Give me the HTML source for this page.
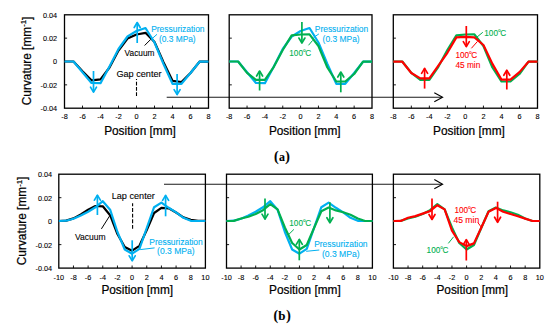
<!DOCTYPE html>
<html><head><meta charset="utf-8"><style>
html,body{margin:0;padding:0;background:#fff;}
svg{display:block;}
text{font-family:"Liberation Sans", sans-serif;}
text{stroke:currentColor;stroke-width:0.1px;}
text.t{stroke-width:0.22px;}
</style></head><body>
<svg width="550" height="327" viewBox="0 0 550 327" font-family='"Liberation Sans", sans-serif'>
<rect width="550" height="327" fill="#fff"/>
<line x1="166.7" y1="97.2" x2="442.0" y2="97.2" stroke="#1a1a1a" stroke-width="1.05" />
<polyline points="434.3,92.7 442.6,97.2 434.3,101.8" fill="none" stroke="#000" stroke-width="1.1"/>
<rect x="64.5" y="14.8" width="144.00" height="93.40" fill="none" stroke="#000" stroke-width="1.3"/>
<text x="64.50" y="119.4" font-size="7.3" fill="#000" color="#000" text-anchor="middle" >-8</text>
<line x1="82.50" y1="108.2" x2="82.50" y2="105.60000000000001" stroke="#000" stroke-width="0.9" />
<text x="82.50" y="119.4" font-size="7.3" fill="#000" color="#000" text-anchor="middle" >-6</text>
<line x1="100.50" y1="108.2" x2="100.50" y2="105.60000000000001" stroke="#000" stroke-width="0.9" />
<text x="100.50" y="119.4" font-size="7.3" fill="#000" color="#000" text-anchor="middle" >-4</text>
<line x1="118.50" y1="108.2" x2="118.50" y2="105.60000000000001" stroke="#000" stroke-width="0.9" />
<text x="118.50" y="119.4" font-size="7.3" fill="#000" color="#000" text-anchor="middle" >-2</text>
<line x1="136.50" y1="108.2" x2="136.50" y2="105.60000000000001" stroke="#000" stroke-width="0.9" />
<text x="136.50" y="119.4" font-size="7.3" fill="#000" color="#000" text-anchor="middle" >0</text>
<line x1="154.50" y1="108.2" x2="154.50" y2="105.60000000000001" stroke="#000" stroke-width="0.9" />
<text x="154.50" y="119.4" font-size="7.3" fill="#000" color="#000" text-anchor="middle" >2</text>
<line x1="172.50" y1="108.2" x2="172.50" y2="105.60000000000001" stroke="#000" stroke-width="0.9" />
<text x="172.50" y="119.4" font-size="7.3" fill="#000" color="#000" text-anchor="middle" >4</text>
<line x1="190.50" y1="108.2" x2="190.50" y2="105.60000000000001" stroke="#000" stroke-width="0.9" />
<text x="190.50" y="119.4" font-size="7.3" fill="#000" color="#000" text-anchor="middle" >6</text>
<text x="208.50" y="119.4" font-size="7.3" fill="#000" color="#000" text-anchor="middle" >8</text>
<text x="57.1" y="17.70" font-size="7.3" fill="#000" color="#000" text-anchor="end" >0.04</text>
<line x1="64.5" y1="38.15" x2="67.1" y2="38.15" stroke="#000" stroke-width="0.9" />
<text x="57.1" y="41.05" font-size="7.3" fill="#000" color="#000" text-anchor="end" >0.02</text>
<line x1="64.5" y1="61.50" x2="67.1" y2="61.50" stroke="#000" stroke-width="0.9" />
<text x="57.1" y="64.40" font-size="7.3" fill="#000" color="#000" text-anchor="end" >0</text>
<line x1="64.5" y1="84.85" x2="67.1" y2="84.85" stroke="#000" stroke-width="0.9" />
<text x="57.1" y="87.75" font-size="7.3" fill="#000" color="#000" text-anchor="end" >-0.02</text>
<text x="57.1" y="111.10" font-size="7.3" fill="#000" color="#000" text-anchor="end" >-0.04</text>
<text x="140.0" y="134.8" font-size="11.85" fill="#000" color="#000" text-anchor="middle" class="t">Position [mm]</text>
<text class="t" color="#000" transform="translate(30.8,60.9) rotate(-90)" font-size="11.85" text-anchor="middle">Curvature [mm<tspan font-size="7.8" dy="-4.6">-1</tspan><tspan dy="4.6">]</tspan></text>
<rect x="229.2" y="14.8" width="142.80" height="93.40" fill="none" stroke="#000" stroke-width="1.3"/>
<text x="229.20" y="119.4" font-size="7.3" fill="#000" color="#000" text-anchor="middle" >-8</text>
<line x1="247.05" y1="108.2" x2="247.05" y2="105.60000000000001" stroke="#000" stroke-width="0.9" />
<text x="247.05" y="119.4" font-size="7.3" fill="#000" color="#000" text-anchor="middle" >-6</text>
<line x1="264.90" y1="108.2" x2="264.90" y2="105.60000000000001" stroke="#000" stroke-width="0.9" />
<text x="264.90" y="119.4" font-size="7.3" fill="#000" color="#000" text-anchor="middle" >-4</text>
<line x1="282.75" y1="108.2" x2="282.75" y2="105.60000000000001" stroke="#000" stroke-width="0.9" />
<text x="282.75" y="119.4" font-size="7.3" fill="#000" color="#000" text-anchor="middle" >-2</text>
<line x1="300.60" y1="108.2" x2="300.60" y2="105.60000000000001" stroke="#000" stroke-width="0.9" />
<text x="300.60" y="119.4" font-size="7.3" fill="#000" color="#000" text-anchor="middle" >0</text>
<line x1="318.45" y1="108.2" x2="318.45" y2="105.60000000000001" stroke="#000" stroke-width="0.9" />
<text x="318.45" y="119.4" font-size="7.3" fill="#000" color="#000" text-anchor="middle" >2</text>
<line x1="336.30" y1="108.2" x2="336.30" y2="105.60000000000001" stroke="#000" stroke-width="0.9" />
<text x="336.30" y="119.4" font-size="7.3" fill="#000" color="#000" text-anchor="middle" >4</text>
<line x1="354.15" y1="108.2" x2="354.15" y2="105.60000000000001" stroke="#000" stroke-width="0.9" />
<text x="354.15" y="119.4" font-size="7.3" fill="#000" color="#000" text-anchor="middle" >6</text>
<text x="372.00" y="119.4" font-size="7.3" fill="#000" color="#000" text-anchor="middle" >8</text>
<line x1="229.2" y1="38.15" x2="231.79999999999998" y2="38.15" stroke="#000" stroke-width="0.9" />
<line x1="229.2" y1="61.50" x2="231.79999999999998" y2="61.50" stroke="#000" stroke-width="0.9" />
<line x1="229.2" y1="84.85" x2="231.79999999999998" y2="84.85" stroke="#000" stroke-width="0.9" />
<text x="304.75" y="134.8" font-size="11.85" fill="#000" color="#000" text-anchor="middle" class="t">Position [mm]</text>
<rect x="393.3" y="14.8" width="144.20" height="93.40" fill="none" stroke="#000" stroke-width="1.3"/>
<text x="393.30" y="119.4" font-size="7.3" fill="#000" color="#000" text-anchor="middle" >-8</text>
<line x1="411.32" y1="108.2" x2="411.32" y2="105.60000000000001" stroke="#000" stroke-width="0.9" />
<text x="411.32" y="119.4" font-size="7.3" fill="#000" color="#000" text-anchor="middle" >-6</text>
<line x1="429.35" y1="108.2" x2="429.35" y2="105.60000000000001" stroke="#000" stroke-width="0.9" />
<text x="429.35" y="119.4" font-size="7.3" fill="#000" color="#000" text-anchor="middle" >-4</text>
<line x1="447.38" y1="108.2" x2="447.38" y2="105.60000000000001" stroke="#000" stroke-width="0.9" />
<text x="447.38" y="119.4" font-size="7.3" fill="#000" color="#000" text-anchor="middle" >-2</text>
<line x1="465.40" y1="108.2" x2="465.40" y2="105.60000000000001" stroke="#000" stroke-width="0.9" />
<text x="465.40" y="119.4" font-size="7.3" fill="#000" color="#000" text-anchor="middle" >0</text>
<line x1="483.43" y1="108.2" x2="483.43" y2="105.60000000000001" stroke="#000" stroke-width="0.9" />
<text x="483.43" y="119.4" font-size="7.3" fill="#000" color="#000" text-anchor="middle" >2</text>
<line x1="501.45" y1="108.2" x2="501.45" y2="105.60000000000001" stroke="#000" stroke-width="0.9" />
<text x="501.45" y="119.4" font-size="7.3" fill="#000" color="#000" text-anchor="middle" >4</text>
<line x1="519.48" y1="108.2" x2="519.48" y2="105.60000000000001" stroke="#000" stroke-width="0.9" />
<text x="519.48" y="119.4" font-size="7.3" fill="#000" color="#000" text-anchor="middle" >6</text>
<text x="537.50" y="119.4" font-size="7.3" fill="#000" color="#000" text-anchor="middle" >8</text>
<line x1="393.3" y1="38.15" x2="395.90000000000003" y2="38.15" stroke="#000" stroke-width="0.9" />
<line x1="393.3" y1="61.50" x2="395.90000000000003" y2="61.50" stroke="#000" stroke-width="0.9" />
<line x1="393.3" y1="84.85" x2="395.90000000000003" y2="84.85" stroke="#000" stroke-width="0.9" />
<text x="468.95" y="134.6" font-size="11.85" fill="#000" color="#000" text-anchor="middle" class="t">Position [mm]</text>
<polyline points="64.50,61.50 73.50,61.50 82.50,71.30 91.50,80.30 100.50,79.30 109.50,67.50 118.50,50.50 127.50,38.50 136.50,34.50 145.50,32.80 154.50,42.00 163.50,62.30 172.50,80.80 181.50,82.00 190.50,73.00 199.50,61.70 208.50,61.70" fill="none" stroke="#000000" stroke-width="2.2" stroke-linejoin="round"/>
<polyline points="64.50,61.50 73.50,61.50 82.50,72.30 91.50,83.00 100.50,83.20 109.50,66.50 118.50,49.00 127.50,36.50 136.50,31.00 145.50,28.00 154.50,42.50 163.50,64.00 172.50,83.80 181.50,83.80 190.50,73.00 199.50,61.70 208.50,61.70" fill="none" stroke="#00b0f0" stroke-width="2.2" stroke-linejoin="round"/>
<line x1="137.2" y1="43" x2="137.2" y2="22.55" stroke="#00b0f0" stroke-width="1.7"/>
<polyline points="134.20,27.55 137.2,22.55 140.20,27.55" fill="none" stroke="#00b0f0" stroke-width="1.7" stroke-linejoin="round" stroke-linecap="round"/>
<line x1="93.5" y1="71" x2="93.5" y2="92.15" stroke="#00b0f0" stroke-width="1.7"/>
<polyline points="90.50,87.15 93.5,92.15 96.50,87.15" fill="none" stroke="#00b0f0" stroke-width="1.7" stroke-linejoin="round" stroke-linecap="round"/>
<line x1="177.1" y1="74.1" x2="177.1" y2="94.65" stroke="#00b0f0" stroke-width="1.7"/>
<polyline points="174.10,89.65 177.1,94.65 180.10,89.65" fill="none" stroke="#00b0f0" stroke-width="1.7" stroke-linejoin="round" stroke-linecap="round"/>
<text x="151.2" y="32.1" font-size="8.43" fill="#00b0f0" color="#00b0f0" text-anchor="start" >Pressurization</text>
<text x="158.9" y="42.0" font-size="8.4" fill="#00b0f0" color="#00b0f0" text-anchor="start" >(0.3 MPa)</text>
<line x1="150.8" y1="39.8" x2="157.0" y2="34.3" stroke="#00b0f0" stroke-width="1.0" />
<text x="124.6" y="55.5" font-size="8.3" fill="#000" color="#000" text-anchor="start" >Vacuum</text>
<line x1="144.6" y1="45.5" x2="150.7" y2="39.4" stroke="#000000" stroke-width="1.0" />
<text x="116.4" y="76.6" font-size="9.15" fill="#000" color="#000" text-anchor="start" >Gap center</text>
<line x1="136.5" y1="78.9" x2="136.5" y2="96.2" stroke="#000000" stroke-width="1.1" stroke-dasharray="3.7,1.6" stroke-dashoffset="2.5"/>
<polyline points="229.20,61.50 238.12,61.50 247.05,72.30 255.97,83.00 264.90,83.20 273.82,66.50 282.75,49.00 291.68,36.50 300.60,31.00 309.52,28.00 318.45,42.50 327.38,64.00 336.30,83.80 345.23,83.80 354.15,73.00 363.07,61.70 372.00,61.70" fill="none" stroke="#00b0f0" stroke-width="2.2" stroke-linejoin="round"/>
<polyline points="229.20,61.50 238.12,61.50 247.05,72.90 255.97,79.80 264.90,79.80 273.82,66.80 282.75,50.00 291.68,35.40 300.60,34.50 309.52,34.30 318.45,46.00 327.38,67.50 336.30,81.50 345.23,81.50 354.15,74.00 363.07,61.70 372.00,61.70" fill="none" stroke="#00b050" stroke-width="2.2" stroke-linejoin="round"/>
<line x1="301.9" y1="21.9" x2="301.9" y2="43.05" stroke="#00b050" stroke-width="1.7"/>
<polyline points="298.90,38.05 301.9,43.05 304.90,38.05" fill="none" stroke="#00b050" stroke-width="1.7" stroke-linejoin="round" stroke-linecap="round"/>
<line x1="259.6" y1="90.5" x2="259.6" y2="71.05" stroke="#00b050" stroke-width="1.7"/>
<polyline points="256.60,76.05 259.6,71.05 262.60,76.05" fill="none" stroke="#00b050" stroke-width="1.7" stroke-linejoin="round" stroke-linecap="round"/>
<line x1="340.8" y1="92.3" x2="340.8" y2="72.05" stroke="#00b050" stroke-width="1.7"/>
<polyline points="337.80,77.05 340.8,72.05 343.80,77.05" fill="none" stroke="#00b050" stroke-width="1.7" stroke-linejoin="round" stroke-linecap="round"/>
<text x="314.8" y="31.9" font-size="8.43" fill="#00b0f0" color="#00b0f0" text-anchor="start" >Pressurization</text>
<text x="322.6" y="41.8" font-size="8.45" fill="#00b0f0" color="#00b0f0" text-anchor="start" >(0.3 MPa)</text>
<line x1="313.5" y1="37.5" x2="318.9" y2="33.9" stroke="#00b0f0" stroke-width="1.0" />
<text x="289.3" y="56.0" font-size="8.2" fill="#00b050" color="#00b050" text-anchor="start" >100<tspan dx="-0.25">°</tspan><tspan dx="-0.75">C</tspan></text>
<line x1="308.5" y1="45.3" x2="312.6" y2="40.4" stroke="#00b050" stroke-width="1.0" />
<polyline points="393.30,61.50 402.31,61.50 411.32,72.90 420.34,79.80 429.35,79.80 438.36,66.80 447.38,50.00 456.39,35.40 465.40,34.50 474.41,34.30 483.43,46.00 492.44,67.50 501.45,81.50 510.46,81.50 519.48,74.00 528.49,61.70 537.50,61.70" fill="none" stroke="#00b050" stroke-width="2.2" stroke-linejoin="round"/>
<polyline points="393.30,61.70 402.31,61.70 411.32,73.00 420.34,78.40 429.35,78.40 438.36,65.70 447.38,52.80 456.39,37.40 465.40,36.80 474.41,37.40 483.43,45.00 492.44,63.90 501.45,79.60 510.46,79.60 519.48,72.10 528.49,61.70 537.50,61.70" fill="none" stroke="#ff0000" stroke-width="2.2" stroke-linejoin="round"/>
<line x1="466.3" y1="26" x2="466.3" y2="46.65" stroke="#ff0000" stroke-width="1.7"/>
<polyline points="463.30,41.65 466.3,46.65 469.30,41.65" fill="none" stroke="#ff0000" stroke-width="1.7" stroke-linejoin="round" stroke-linecap="round"/>
<line x1="424.6" y1="88.6" x2="424.6" y2="68.35" stroke="#ff0000" stroke-width="1.7"/>
<polyline points="421.60,73.35 424.6,68.35 427.60,73.35" fill="none" stroke="#ff0000" stroke-width="1.7" stroke-linejoin="round" stroke-linecap="round"/>
<line x1="506.8" y1="89.5" x2="506.8" y2="70.25" stroke="#ff0000" stroke-width="1.7"/>
<polyline points="503.80,75.25 506.8,70.25 509.80,75.25" fill="none" stroke="#ff0000" stroke-width="1.7" stroke-linejoin="round" stroke-linecap="round"/>
<text x="484.3" y="36.1" font-size="8.2" fill="#00b050" color="#00b050" text-anchor="start" >100<tspan dx="-0.25">°</tspan><tspan dx="-0.75">C</tspan></text>
<line x1="475.6" y1="38.2" x2="482.8" y2="32.3" stroke="#00b050" stroke-width="1.0" />
<text x="455.4" y="57.9" font-size="8.2" fill="#ff0000" color="#ff0000" text-anchor="start" >100<tspan dx="-0.25">°</tspan><tspan dx="-0.75">C</tspan></text>
<text x="455.4" y="67.8" font-size="8.3" fill="#ff0000" color="#ff0000" text-anchor="start" >45 min</text>
<line x1="471.4" y1="48.3" x2="477.5" y2="41.4" stroke="#ff0000" stroke-width="1.0" />
<text x="273.9" y="160.9" font-size="13.8" style="font-family:&quot;Liberation Serif&quot;, serif" font-weight="bold" fill="#000">(<tspan dx="0.5" font-size="11.9" font-weight="bold">a</tspan><tspan dx="0.4">)</tspan></text>
<line x1="164" y1="184.2" x2="442.0" y2="184.2" stroke="#1a1a1a" stroke-width="1.05" />
<polyline points="434.3,179.4 442.6,184.2 434.3,188.8" fill="none" stroke="#000" stroke-width="1.1"/>
<rect x="58.8" y="174.2" width="146.60" height="93.90" fill="none" stroke="#000" stroke-width="1.3"/>
<text x="58.80" y="280.0" font-size="7.3" fill="#000" color="#000" text-anchor="middle" >-10</text>
<line x1="73.46" y1="268.1" x2="73.46" y2="265.5" stroke="#000" stroke-width="0.9" />
<text x="73.46" y="280.0" font-size="7.3" fill="#000" color="#000" text-anchor="middle" >-8</text>
<line x1="88.12" y1="268.1" x2="88.12" y2="265.5" stroke="#000" stroke-width="0.9" />
<text x="88.12" y="280.0" font-size="7.3" fill="#000" color="#000" text-anchor="middle" >-6</text>
<line x1="102.78" y1="268.1" x2="102.78" y2="265.5" stroke="#000" stroke-width="0.9" />
<text x="102.78" y="280.0" font-size="7.3" fill="#000" color="#000" text-anchor="middle" >-4</text>
<line x1="117.44" y1="268.1" x2="117.44" y2="265.5" stroke="#000" stroke-width="0.9" />
<text x="117.44" y="280.0" font-size="7.3" fill="#000" color="#000" text-anchor="middle" >-2</text>
<line x1="132.10" y1="268.1" x2="132.10" y2="265.5" stroke="#000" stroke-width="0.9" />
<text x="132.10" y="280.0" font-size="7.3" fill="#000" color="#000" text-anchor="middle" >0</text>
<line x1="146.76" y1="268.1" x2="146.76" y2="265.5" stroke="#000" stroke-width="0.9" />
<text x="146.76" y="280.0" font-size="7.3" fill="#000" color="#000" text-anchor="middle" >2</text>
<line x1="161.42" y1="268.1" x2="161.42" y2="265.5" stroke="#000" stroke-width="0.9" />
<text x="161.42" y="280.0" font-size="7.3" fill="#000" color="#000" text-anchor="middle" >4</text>
<line x1="176.08" y1="268.1" x2="176.08" y2="265.5" stroke="#000" stroke-width="0.9" />
<text x="176.08" y="280.0" font-size="7.3" fill="#000" color="#000" text-anchor="middle" >6</text>
<line x1="190.74" y1="268.1" x2="190.74" y2="265.5" stroke="#000" stroke-width="0.9" />
<text x="190.74" y="280.0" font-size="7.3" fill="#000" color="#000" text-anchor="middle" >8</text>
<text x="205.40" y="280.0" font-size="7.3" fill="#000" color="#000" text-anchor="middle" >10</text>
<text x="52.1" y="177.10" font-size="7.3" fill="#000" color="#000" text-anchor="end" >0.04</text>
<line x1="58.8" y1="197.68" x2="61.4" y2="197.68" stroke="#000" stroke-width="0.9" />
<text x="52.1" y="200.58" font-size="7.3" fill="#000" color="#000" text-anchor="end" >0.02</text>
<line x1="58.8" y1="221.15" x2="61.4" y2="221.15" stroke="#000" stroke-width="0.9" />
<text x="52.1" y="224.05" font-size="7.3" fill="#000" color="#000" text-anchor="end" >0</text>
<line x1="58.8" y1="244.62" x2="61.4" y2="244.62" stroke="#000" stroke-width="0.9" />
<text x="52.1" y="247.53" font-size="7.3" fill="#000" color="#000" text-anchor="end" >-0.02</text>
<text x="52.1" y="271.00" font-size="7.3" fill="#000" color="#000" text-anchor="end" >-0.04</text>
<text x="137.25" y="294.4" font-size="11.85" fill="#000" color="#000" text-anchor="middle" class="t">Position [mm]</text>
<text class="t" color="#000" transform="translate(26.4,220.9) rotate(-90)" font-size="11.85" text-anchor="middle">Curvature [mm<tspan font-size="7.8" dy="-4.6">-1</tspan><tspan dy="4.6">]</tspan></text>
<rect x="226.5" y="174.2" width="145.90" height="93.90" fill="none" stroke="#000" stroke-width="1.3"/>
<text x="226.50" y="280.0" font-size="7.3" fill="#000" color="#000" text-anchor="middle" >-10</text>
<line x1="241.09" y1="268.1" x2="241.09" y2="265.5" stroke="#000" stroke-width="0.9" />
<text x="241.09" y="280.0" font-size="7.3" fill="#000" color="#000" text-anchor="middle" >-8</text>
<line x1="255.68" y1="268.1" x2="255.68" y2="265.5" stroke="#000" stroke-width="0.9" />
<text x="255.68" y="280.0" font-size="7.3" fill="#000" color="#000" text-anchor="middle" >-6</text>
<line x1="270.27" y1="268.1" x2="270.27" y2="265.5" stroke="#000" stroke-width="0.9" />
<text x="270.27" y="280.0" font-size="7.3" fill="#000" color="#000" text-anchor="middle" >-4</text>
<line x1="284.86" y1="268.1" x2="284.86" y2="265.5" stroke="#000" stroke-width="0.9" />
<text x="284.86" y="280.0" font-size="7.3" fill="#000" color="#000" text-anchor="middle" >-2</text>
<line x1="299.45" y1="268.1" x2="299.45" y2="265.5" stroke="#000" stroke-width="0.9" />
<text x="299.45" y="280.0" font-size="7.3" fill="#000" color="#000" text-anchor="middle" >0</text>
<line x1="314.04" y1="268.1" x2="314.04" y2="265.5" stroke="#000" stroke-width="0.9" />
<text x="314.04" y="280.0" font-size="7.3" fill="#000" color="#000" text-anchor="middle" >2</text>
<line x1="328.63" y1="268.1" x2="328.63" y2="265.5" stroke="#000" stroke-width="0.9" />
<text x="328.63" y="280.0" font-size="7.3" fill="#000" color="#000" text-anchor="middle" >4</text>
<line x1="343.22" y1="268.1" x2="343.22" y2="265.5" stroke="#000" stroke-width="0.9" />
<text x="343.22" y="280.0" font-size="7.3" fill="#000" color="#000" text-anchor="middle" >6</text>
<line x1="357.81" y1="268.1" x2="357.81" y2="265.5" stroke="#000" stroke-width="0.9" />
<text x="357.81" y="280.0" font-size="7.3" fill="#000" color="#000" text-anchor="middle" >8</text>
<text x="372.40" y="280.0" font-size="7.3" fill="#000" color="#000" text-anchor="middle" >10</text>
<line x1="226.5" y1="197.68" x2="229.1" y2="197.68" stroke="#000" stroke-width="0.9" />
<line x1="226.5" y1="221.15" x2="229.1" y2="221.15" stroke="#000" stroke-width="0.9" />
<line x1="226.5" y1="244.62" x2="229.1" y2="244.62" stroke="#000" stroke-width="0.9" />
<text x="304.9" y="294.4" font-size="11.85" fill="#000" color="#000" text-anchor="middle" class="t">Position [mm]</text>
<rect x="393.4" y="174.2" width="146.40" height="93.90" fill="none" stroke="#000" stroke-width="1.3"/>
<text x="393.40" y="280.0" font-size="7.3" fill="#000" color="#000" text-anchor="middle" >-10</text>
<line x1="408.04" y1="268.1" x2="408.04" y2="265.5" stroke="#000" stroke-width="0.9" />
<text x="408.04" y="280.0" font-size="7.3" fill="#000" color="#000" text-anchor="middle" >-8</text>
<line x1="422.68" y1="268.1" x2="422.68" y2="265.5" stroke="#000" stroke-width="0.9" />
<text x="422.68" y="280.0" font-size="7.3" fill="#000" color="#000" text-anchor="middle" >-6</text>
<line x1="437.32" y1="268.1" x2="437.32" y2="265.5" stroke="#000" stroke-width="0.9" />
<text x="437.32" y="280.0" font-size="7.3" fill="#000" color="#000" text-anchor="middle" >-4</text>
<line x1="451.96" y1="268.1" x2="451.96" y2="265.5" stroke="#000" stroke-width="0.9" />
<text x="451.96" y="280.0" font-size="7.3" fill="#000" color="#000" text-anchor="middle" >-2</text>
<line x1="466.60" y1="268.1" x2="466.60" y2="265.5" stroke="#000" stroke-width="0.9" />
<text x="466.60" y="280.0" font-size="7.3" fill="#000" color="#000" text-anchor="middle" >0</text>
<line x1="481.24" y1="268.1" x2="481.24" y2="265.5" stroke="#000" stroke-width="0.9" />
<text x="481.24" y="280.0" font-size="7.3" fill="#000" color="#000" text-anchor="middle" >2</text>
<line x1="495.88" y1="268.1" x2="495.88" y2="265.5" stroke="#000" stroke-width="0.9" />
<text x="495.88" y="280.0" font-size="7.3" fill="#000" color="#000" text-anchor="middle" >4</text>
<line x1="510.52" y1="268.1" x2="510.52" y2="265.5" stroke="#000" stroke-width="0.9" />
<text x="510.52" y="280.0" font-size="7.3" fill="#000" color="#000" text-anchor="middle" >6</text>
<line x1="525.16" y1="268.1" x2="525.16" y2="265.5" stroke="#000" stroke-width="0.9" />
<text x="525.16" y="280.0" font-size="7.3" fill="#000" color="#000" text-anchor="middle" >8</text>
<text x="539.80" y="280.0" font-size="7.3" fill="#000" color="#000" text-anchor="middle" >10</text>
<line x1="393.4" y1="197.68" x2="396.0" y2="197.68" stroke="#000" stroke-width="0.9" />
<line x1="393.4" y1="221.15" x2="396.0" y2="221.15" stroke="#000" stroke-width="0.9" />
<line x1="393.4" y1="244.62" x2="396.0" y2="244.62" stroke="#000" stroke-width="0.9" />
<text x="472.3" y="294.2" font-size="11.85" fill="#000" color="#000" text-anchor="middle" class="t">Position [mm]</text>
<polyline points="58.80,221.00 66.13,220.60 73.46,218.40 80.79,214.50 88.12,209.80 95.45,206.00 102.78,206.30 110.11,215.20 117.44,234.00 124.77,247.00 132.10,250.70 139.43,245.80 146.76,230.00 154.09,213.00 161.42,207.80 168.75,208.30 176.08,212.50 183.41,217.40 190.74,219.90 198.07,220.80 205.40,220.80" fill="none" stroke="#000000" stroke-width="2.2" stroke-linejoin="round"/>
<polyline points="58.80,221.00 66.13,220.70 73.46,218.70 80.79,215.60 88.12,211.80 95.45,207.30 102.78,201.20 110.11,209.70 117.44,232.00 124.77,249.50 132.10,253.70 139.43,248.90 146.76,228.00 154.09,207.20 161.42,202.60 168.75,207.80 176.08,212.40 183.41,217.80 190.74,220.80 198.07,221.00 205.40,221.00" fill="none" stroke="#00b0f0" stroke-width="2.2" stroke-linejoin="round"/>
<line x1="97.4" y1="215" x2="97.4" y2="195.15" stroke="#00b0f0" stroke-width="1.7"/>
<polyline points="94.40,200.15 97.4,195.15 100.40,200.15" fill="none" stroke="#00b0f0" stroke-width="1.7" stroke-linejoin="round" stroke-linecap="round"/>
<line x1="165.6" y1="216.3" x2="165.6" y2="195.35" stroke="#00b0f0" stroke-width="1.7"/>
<polyline points="162.60,200.35 165.6,195.35 168.60,200.35" fill="none" stroke="#00b0f0" stroke-width="1.7" stroke-linejoin="round" stroke-linecap="round"/>
<line x1="132.2" y1="240.3" x2="132.2" y2="260.85" stroke="#00b0f0" stroke-width="1.7"/>
<polyline points="129.20,255.85 132.2,260.85 135.20,255.85" fill="none" stroke="#00b0f0" stroke-width="1.7" stroke-linejoin="round" stroke-linecap="round"/>
<text x="111.7" y="199.2" font-size="9.15" fill="#000" color="#000" text-anchor="start" >Lap center</text>
<line x1="132.6" y1="203.2" x2="132.6" y2="228.8" stroke="#000000" stroke-width="1.1" stroke-dasharray="3.9,1.75" stroke-dashoffset="0.8"/>
<text x="74.9" y="240.4" font-size="8.55" fill="#000" color="#000" text-anchor="start" >Vacuum</text>
<line x1="101.4" y1="228.9" x2="109.5" y2="216.1" stroke="#000000" stroke-width="1.0" />
<text x="149.3" y="244.5" font-size="8.45" fill="#00b0f0" color="#00b0f0" text-anchor="start" >Pressurization</text>
<text x="157.1" y="254.3" font-size="8.55" fill="#00b0f0" color="#00b0f0" text-anchor="start" >(0.3 MPa)</text>
<line x1="140.2" y1="249.6" x2="154.6" y2="247.9" stroke="#00b0f0" stroke-width="1.0" />
<polyline points="226.50,221.00 233.79,220.70 241.09,218.70 248.38,215.60 255.68,211.80 262.98,207.30 270.27,201.20 277.56,209.70 284.86,232.00 292.15,249.50 299.45,253.70 306.75,248.90 314.04,228.00 321.33,207.20 328.63,202.60 335.92,207.80 343.22,212.40 350.51,217.80 357.81,220.80 365.10,221.00 372.40,221.00" fill="none" stroke="#00b0f0" stroke-width="2.2" stroke-linejoin="round"/>
<polyline points="226.50,221.00 233.79,220.90 241.09,218.50 248.38,216.80 255.68,214.00 262.98,210.20 270.27,204.20 277.56,209.40 284.86,227.50 292.15,243.00 299.45,249.50 306.75,245.00 314.04,228.00 321.33,211.30 328.63,207.50 335.92,210.40 343.22,212.30 350.51,214.80 357.81,218.50 365.10,221.00 372.40,221.00" fill="none" stroke="#00b050" stroke-width="2.2" stroke-linejoin="round"/>
<line x1="265.0" y1="198.5" x2="265.0" y2="219.15" stroke="#00b050" stroke-width="1.7"/>
<polyline points="262.00,214.15 265.0,219.15 268.00,214.15" fill="none" stroke="#00b050" stroke-width="1.7" stroke-linejoin="round" stroke-linecap="round"/>
<line x1="329.9" y1="202.2" x2="329.9" y2="222.75" stroke="#00b050" stroke-width="1.7"/>
<polyline points="326.90,217.75 329.9,222.75 332.90,217.75" fill="none" stroke="#00b050" stroke-width="1.7" stroke-linejoin="round" stroke-linecap="round"/>
<line x1="299.3" y1="260.3" x2="299.3" y2="239.35" stroke="#00b050" stroke-width="1.7"/>
<polyline points="296.30,244.35 299.3,239.35 302.30,244.35" fill="none" stroke="#00b050" stroke-width="1.7" stroke-linejoin="round" stroke-linecap="round"/>
<text x="289.3" y="226.1" font-size="8.2" fill="#00b050" color="#00b050" text-anchor="start" >100<tspan dx="-0.25">°</tspan><tspan dx="-0.75">C</tspan></text>
<line x1="288.3" y1="234.9" x2="293.9" y2="229.4" stroke="#00b050" stroke-width="1.0" />
<text x="314.2" y="247.3" font-size="8.43" fill="#00b0f0" color="#00b0f0" text-anchor="start" >Pressurization</text>
<text x="321.9" y="256.6" font-size="8.6" fill="#00b0f0" color="#00b0f0" text-anchor="start" >(0.3 MPa)</text>
<line x1="306.2" y1="251.3" x2="319.3" y2="250.0" stroke="#00b0f0" stroke-width="1.0" />
<polyline points="393.40,221.00 400.72,220.90 408.04,218.50 415.36,216.80 422.68,214.00 430.00,210.20 437.32,204.20 444.64,209.40 451.96,227.50 459.28,243.00 466.60,249.50 473.92,245.00 481.24,228.00 488.56,211.30 495.88,207.50 503.20,210.40 510.52,212.30 517.84,214.80 525.16,218.50 532.48,221.00 539.80,221.00" fill="none" stroke="#00b050" stroke-width="2.2" stroke-linejoin="round"/>
<polyline points="393.40,221.00 400.72,220.90 408.04,217.80 415.36,216.10 422.68,213.60 430.00,211.10 437.32,205.20 444.64,209.40 451.96,230.60 459.28,242.10 466.60,246.10 473.92,243.40 481.24,227.80 488.56,211.70 495.88,207.90 503.20,211.80 510.52,214.00 517.84,216.20 525.16,218.60 532.48,221.00 539.80,221.00" fill="none" stroke="#ff0000" stroke-width="2.2" stroke-linejoin="round"/>
<line x1="432.0" y1="198.5" x2="432.0" y2="219.45" stroke="#ff0000" stroke-width="1.7"/>
<polyline points="429.00,214.45 432.0,219.45 435.00,214.45" fill="none" stroke="#ff0000" stroke-width="1.7" stroke-linejoin="round" stroke-linecap="round"/>
<line x1="497.6" y1="201.7" x2="497.6" y2="222.25" stroke="#ff0000" stroke-width="1.7"/>
<polyline points="494.60,217.25 497.6,222.25 500.60,217.25" fill="none" stroke="#ff0000" stroke-width="1.7" stroke-linejoin="round" stroke-linecap="round"/>
<line x1="466.3" y1="260.5" x2="466.3" y2="239.65" stroke="#ff0000" stroke-width="1.7"/>
<polyline points="463.30,244.65 466.3,239.65 469.30,244.65" fill="none" stroke="#ff0000" stroke-width="1.7" stroke-linejoin="round" stroke-linecap="round"/>
<text x="454.4" y="212.6" font-size="8.2" fill="#ff0000" color="#ff0000" text-anchor="start" >100<tspan dx="-0.25">°</tspan><tspan dx="-0.75">C</tspan></text>
<text x="453.4" y="223.0" font-size="8.6" fill="#ff0000" color="#ff0000" text-anchor="start" >45 min</text>
<line x1="477.9" y1="222.6" x2="481.6" y2="227.5" stroke="#ff0000" stroke-width="1.0" />
<text x="426.6" y="253.0" font-size="8.2" fill="#00b050" color="#00b050" text-anchor="start" >100<tspan dx="-0.25">°</tspan><tspan dx="-0.75">C</tspan></text>
<line x1="448.3" y1="243.4" x2="453.6" y2="236.8" stroke="#00b050" stroke-width="1.0" />
<text x="273.5" y="320.0" font-size="13.6" style="font-family:&quot;Liberation Serif&quot;, serif" font-weight="bold" fill="#000">(<tspan dx="0.3" font-size="13" font-weight="bold">b</tspan><tspan dx="0.6">)</tspan></text>
</svg>
</body></html>
